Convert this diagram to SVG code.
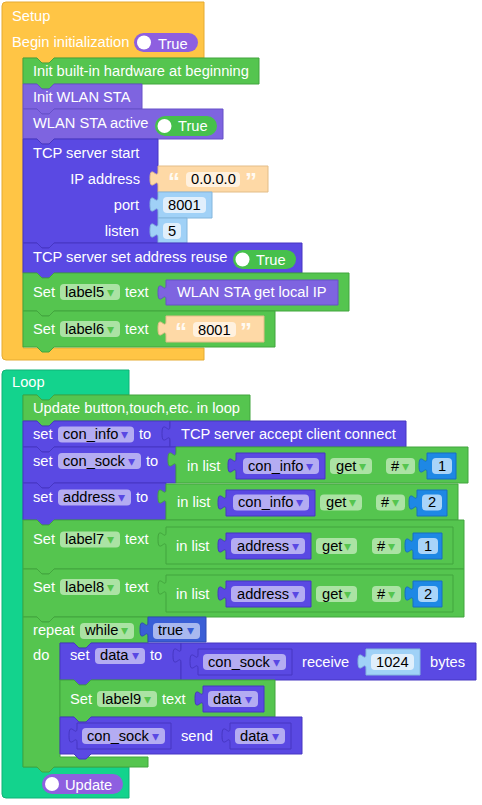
<svg xmlns="http://www.w3.org/2000/svg" width="482" height="805" viewBox="0 0 482 805">
<style>
text{font-family:"Liberation Sans",Arial,sans-serif;font-size:14.67px;fill:#fff}
.k{fill:#000}
.a{font-family:"DejaVu Sans",sans-serif;font-size:14px}
.ag{fill:#55c54f}.ap{fill:#5a49e3}.at{fill:#3a5ed6}
.q{font-weight:bold;font-size:24px;fill:#fffaf2}
.yel{fill:#ffc545;stroke:#e5ab33}
.lp{fill:#13d38d;stroke:#0fb377}
.g{fill:#55c54f;stroke:#43a53e}
.p1{fill:#7e64e0;stroke:#6650c8}
.p2{fill:#5a49e3;stroke:#4637c2}
.or{fill:#fed9a6;stroke:#e3bd88}
.nl{fill:#a0d1f7;stroke:#84b6dd}
.nb{fill:#1e88e5;stroke:#186fc0}
.tb{fill:#3a5ed6;stroke:#2f4cb3}
.ddg{fill:#abe3a4}.ddp{fill:#b4acf2}.ddt{fill:#a9b8ef}
.io{fill:#fff1df}.inl{fill:#e0effc}.inb{fill:#a9d4f9}
</style>
<g id="connectors"></g>
<g id="setup">
<path class="yel" d="M2,6 a4,4 0 0 1 4,-4 H204 V58 H54 l-5,5 h-7 l-5,-5 H23 V348 H204 V360 H6 a4,4 0 0 1 -4,-4 Z"/>
<text x="12" y="20.5">Setup</text>
<text x="12" y="46.5">Begin initialization</text>
<rect x="134" y="33" width="64" height="19" rx="9.5" fill="#8e5fe0"/>
<circle cx="144" cy="42.5" r="7" fill="#fff"/>
<text x="158" y="48.5">True</text>
</g>
<g id="init-hw">
<path class="g" d="M23,58 H37 l5,5 h7 l5,-5 H259 V84 H54 l-5,5 h-7 l-5,-5 H23 Z"/>
<text x="33" y="76">Init built-in hardware at beginning</text>
</g>
<g id="init-wlan">
<path class="p1" d="M23,84 H37 l5,5 h7 l5,-5 H142 V109 H54 l-5,5 h-7 l-5,-5 H23 Z"/>
<text x="33" y="102">Init WLAN STA</text>
</g>
<g id="wlan-active">
<path class="p1" d="M23,109 H37 l5,5 h7 l5,-5 H223 V139 H54 l-5,5 h-7 l-5,-5 H23 Z"/>
<text x="33" y="128">WLAN STA active</text>
<rect x="155" y="116" width="62" height="20" rx="10" fill="#46c04c"/>
<circle cx="164.5" cy="126" r="7" fill="#fff"/>
<text x="178" y="131">True</text>
</g>
<g id="tcp-start">
<path class="p2" d="M23,139 H37 l5,5 h7 l5,-5 H158 V243 H54 l-5,5 h-7 l-5,-5 H23 Z"/>
<text x="33" y="158">TCP server start</text>
<text x="140" y="183.5" text-anchor="end">IP address</text>
<text x="139" y="210" text-anchor="end">port</text>
<text x="139" y="236" text-anchor="end">listen</text>
<path class="or" d="M158,166 H268 V192 H158 V186 c0,-10 -8,8 -8,-7.5 s8,2.5 8,-7.5 Z"/>
<text class="q" x="168" y="190">“</text>
<rect class="io" x="186" y="172" width="54" height="15" rx="4"/>
<text class="k" x="191" y="184">0.0.0.0</text>
<text class="q" x="245" y="190">”</text>
<path class="nl" d="M158,192 H212 V218 H158 V212 c0,-10 -8,8 -8,-7.5 s8,2.5 8,-7.5 Z"/>
<rect class="inl" x="163" y="197" width="43" height="16" rx="4"/>
<text class="k" x="168" y="210">8001</text>
<path class="nl" d="M158,218 H187 V243 H158 V238 c0,-10 -8,8 -8,-7.5 s8,2.5 8,-7.5 Z"/>
<rect class="inl" x="163" y="223" width="18" height="16" rx="4"/>
<text class="k" x="168" y="236">5</text>
</g>
<g id="tcp-reuse">
<path class="p2" d="M23,243 H37 l5,5 h7 l5,-5 H302 V273 H54 l-5,5 h-7 l-5,-5 H23 Z"/>
<text x="33" y="262">TCP server set address reuse</text>
<rect x="233" y="250" width="63" height="19" rx="9.5" fill="#46c04c"/>
<circle cx="242.5" cy="259.5" r="7" fill="#fff"/>
<text x="256" y="264.5">True</text>
</g>
<g id="set-label5">
<path class="g" d="M23,273 H37 l5,5 h7 l5,-5 H349 V311 H54 l-5,5 h-7 l-5,-5 H23 Z"/>
<text x="33" y="297">Set</text>
<rect class="ddg" x="60" y="284" width="60" height="16" rx="4"/>
<text class="k" x="65" y="297">label5</text>
<text class="a ag" x="107" y="297">▾</text>
<text x="125" y="297">text</text>
<path class="p1" d="M166,280 H338 V305 H166 V300 c0,-10 -8,8 -8,-7.5 s8,2.5 8,-7.5 Z"/>
<text x="177" y="297">WLAN STA get local IP</text>
</g>
<g id="set-label6">
<path class="g" d="M23,311 H37 l5,5 h7 l5,-5 H275 V347 H54 l-5,5 h-7 l-5,-5 H23 Z"/>
<text x="33" y="333.5">Set</text>
<rect class="ddg" x="60" y="321" width="60" height="16" rx="4"/>
<text class="k" x="65" y="333.5">label6</text>
<text class="a ag" x="107" y="333.5">▾</text>
<text x="125" y="333.5">text</text>
<path class="or" d="M166,316 H264 V342 H166 V336 c0,-10 -8,8 -8,-7.5 s8,2.5 8,-7.5 Z"/>
<text class="q" x="175" y="340">“</text>
<rect class="io" x="193" y="322" width="43" height="15" rx="4"/>
<text class="k" x="198" y="334.5">8001</text>
<text class="q" x="240" y="340">”</text>
</g>
<g id="loop">
<path class="lp" d="M2,374 a4,4 0 0 1 4,-4 H129 V395 H54 l-5,5 h-7 l-5,-5 H23 V767 H129 V798 H6 a4,4 0 0 1 -4,-4 Z"/>
<text x="12" y="387">Loop</text>
<rect x="42" y="774" width="81" height="20" rx="10" fill="#8e5fe0"/>
<circle cx="52" cy="784" r="7" fill="#fff"/>
<text x="65" y="790">Update</text>
</g>
<g id="update-loop">
<path class="g" d="M23,395 H37 l5,5 h7 l5,-5 H250 V421 H54 l-5,5 h-7 l-5,-5 H23 Z"/>
<text x="33" y="413">Update button,touch,etc. in loop</text>
</g>
<g id="set-con-info">
<path class="p2" d="M23,421 H37 l5,5 h7 l5,-5 H170 V447 H54 l-5,5 h-7 l-5,-5 H23 Z"/>
<text x="33" y="439">set</text>
<rect class="ddp" x="58" y="426.5" width="76" height="16" rx="4"/>
<text class="k" x="63" y="439">con_info</text>
<text class="a ap" x="121" y="439">▾</text>
<text x="139" y="439">to</text>
<path class="p2" d="M170,421 H406 V447 H170 V441 c0,-10 -8,8 -8,-7.5 s8,2.5 8,-7.5 Z"/>
<text x="181" y="439">TCP server accept client connect</text>
</g>
<g id="set-con-sock">
<path class="p2" d="M23,447 H37 l5,5 h7 l5,-5 H176 V483 H54 l-5,5 h-7 l-5,-5 H23 Z"/>
<text x="33" y="466">set</text>
<rect class="ddp" x="58" y="453" width="83" height="16" rx="4"/>
<text class="k" x="63" y="466">con_sock</text>
<text class="a ap" x="128" y="466">▾</text>
<text x="146" y="466">to</text>
<path class="g" d="M176,447 H468 V483 H176 V467 c0,-10 -8,8 -8,-7.5 s8,2.5 8,-7.5 Z"/>
<text x="187" y="470.5">in list</text>
<path class="p2" d="M236,453 H325 V479 H236 V473 c0,-10 -8,8 -8,-7.5 s8,2.5 8,-7.5 Z"/>
<rect class="ddp" x="243" y="458" width="76" height="16" rx="4"/>
<text class="k" x="248" y="470.5">con_info</text>
<text class="a ap" x="306" y="470.5">▾</text>
<rect class="ddg" x="330" y="458" width="42" height="16" rx="4"/>
<text class="k" x="336" y="470.5">get</text>
<text class="a ag" x="359" y="470.5">▾</text>
<rect class="ddg" x="386" y="458" width="29" height="16" rx="4"/>
<text class="k" x="391" y="470.5">#</text>
<text class="a ag" x="402" y="470.5">▾</text>
<path class="nb" d="M427,453 H456 V479 H427 V473 c0,-10 -8,8 -8,-7.5 s8,2.5 8,-7.5 Z"/>
<rect class="inb" x="432" y="458" width="20" height="16" rx="4"/>
<text class="k" x="438" y="470.5">1</text>
</g>
<g id="set-address">
<path class="p2" d="M23,483 H37 l5,5 h7 l5,-5 H166 V520 H54 l-5,5 h-7 l-5,-5 H23 Z"/>
<text x="33" y="502">set</text>
<rect class="ddp" x="58" y="489.5" width="73" height="16" rx="4"/>
<text class="k" x="63" y="502">address</text>
<text class="a ap" x="118" y="502">▾</text>
<text x="136" y="502">to</text>
<path class="g" d="M166,484 H458 V520 H166 V504 c0,-10 -8,8 -8,-7.5 s8,2.5 8,-7.5 Z"/>
<text x="177" y="507">in list</text>
<path class="p2" d="M226,490 H315 V516 H226 V510 c0,-10 -8,8 -8,-7.5 s8,2.5 8,-7.5 Z"/>
<rect class="ddp" x="233" y="494.5" width="76" height="16" rx="4"/>
<text class="k" x="238" y="507">con_info</text>
<text class="a ap" x="296" y="507">▾</text>
<rect class="ddg" x="320" y="494.5" width="42" height="16" rx="4"/>
<text class="k" x="326" y="507">get</text>
<text class="a ag" x="349" y="507">▾</text>
<rect class="ddg" x="376" y="494.5" width="29" height="16" rx="4"/>
<text class="k" x="381" y="507">#</text>
<text class="a ag" x="392" y="507">▾</text>
<path class="nb" d="M417,490 H447 V516 H417 V510 c0,-10 -8,8 -8,-7.5 s8,2.5 8,-7.5 Z"/>
<rect class="inb" x="422" y="494.5" width="20" height="16" rx="4"/>
<text class="k" x="428" y="507">2</text>
</g>
<g id="set-label7">
<path class="g" d="M23,520 H37 l5,5 h7 l5,-5 H464 V569 H54 l-5,5 h-7 l-5,-5 H23 Z"/>
<text x="33" y="544">Set</text>
<rect class="ddg" x="60" y="531.5" width="60" height="16" rx="4"/>
<text class="k" x="65" y="544">label7</text>
<text class="a ag" x="107" y="544">▾</text>
<text x="125" y="544">text</text>
<path class="g" d="M166,527 H453 V564 H166 V547 c0,-10 -8,8 -8,-7.5 s8,2.5 8,-7.5 Z"/>
<text x="176" y="550.5">in list</text>
<path class="p2" d="M226,533 H311 V559 H226 V553 c0,-10 -8,8 -8,-7.5 s8,2.5 8,-7.5 Z"/>
<rect class="ddp" x="231" y="538" width="74" height="16" rx="4"/>
<text class="k" x="237" y="550.5">address</text>
<text class="a ap" x="292" y="550.5">▾</text>
<rect class="ddg" x="316" y="538" width="41" height="16" rx="4"/>
<text class="k" x="322" y="550.5">get</text>
<text class="a ag" x="344" y="550.5">▾</text>
<rect class="ddg" x="372" y="538" width="29" height="16" rx="4"/>
<text class="k" x="377" y="550.5">#</text>
<text class="a ag" x="388" y="550.5">▾</text>
<path class="nb" d="M413,533 H442 V559 H413 V553 c0,-10 -8,8 -8,-7.5 s8,2.5 8,-7.5 Z"/>
<rect class="inb" x="418" y="538" width="20" height="16" rx="4"/>
<text class="k" x="424" y="550.5">1</text>
</g>
<g id="set-label8">
<path class="g" d="M23,569 H37 l5,5 h7 l5,-5 H464 V617 H54 l-5,5 h-7 l-5,-5 H23 Z"/>
<text x="33" y="592">Set</text>
<rect class="ddg" x="60" y="579" width="60" height="16" rx="4"/>
<text class="k" x="65" y="592">label8</text>
<text class="a ag" x="107" y="592">▾</text>
<text x="125" y="592">text</text>
<path class="g" d="M166,575 H453 V612 H166 V595 c0,-10 -8,8 -8,-7.5 s8,2.5 8,-7.5 Z"/>
<text x="176" y="598.5">in list</text>
<path class="p2" d="M226,581 H311 V607 H226 V601 c0,-10 -8,8 -8,-7.5 s8,2.5 8,-7.5 Z"/>
<rect class="ddp" x="231" y="586" width="74" height="16" rx="4"/>
<text class="k" x="237" y="598.5">address</text>
<text class="a ap" x="292" y="598.5">▾</text>
<rect class="ddg" x="316" y="586" width="41" height="16" rx="4"/>
<text class="k" x="322" y="598.5">get</text>
<text class="a ag" x="344" y="598.5">▾</text>
<rect class="ddg" x="372" y="586" width="29" height="16" rx="4"/>
<text class="k" x="377" y="598.5">#</text>
<text class="a ag" x="388" y="598.5">▾</text>
<path class="nb" d="M413,581 H442 V607 H413 V601 c0,-10 -8,8 -8,-7.5 s8,2.5 8,-7.5 Z"/>
<rect class="inb" x="418" y="586" width="20" height="16" rx="4"/>
<text class="k" x="424" y="598.5">2</text>
</g>
<g id="repeat-while">
<path class="g" d="M23,617 H37 l5,5 h7 l5,-5 H148 V643 H91 l-5,5 h-7 l-5,-5 H60 V757 H148 V767 H54 l-5,5 h-7 l-5,-5 H23 Z"/>
<text x="33" y="635">repeat</text>
<rect class="ddg" x="80" y="623" width="54" height="16" rx="4"/>
<text class="k" x="85" y="635">while</text>
<text class="a ag" x="121" y="635">▾</text>
<path class="tb" d="M148,617 H206 V642 H148 V637 c0,-10 -8,8 -8,-7.5 s8,2.5 8,-7.5 Z"/>
<rect class="ddt" x="153" y="623" width="47" height="16" rx="4"/>
<text class="k" x="158" y="635">true</text>
<text class="a at" x="187" y="635">▾</text>
<text x="33" y="660">do</text>
</g>
<g id="set-data">
<path class="p2" d="M60,643 H74 l5,5 h7 l5,-5 H181 V680 H91 l-5,5 h-7 l-5,-5 H60 Z"/>
<text x="70" y="660">set</text>
<rect class="ddp" x="95" y="648" width="50" height="16" rx="4"/>
<text class="k" x="100" y="660">data</text>
<text class="a ap" x="132" y="660">▾</text>
<text x="150" y="660">to</text>
<path class="p2" d="M181,643 H476 V680 H181 V663 c0,-10 -8,8 -8,-7.5 s8,2.5 8,-7.5 Z"/>
<path class="p2" d="M198,649 H292 V675 H198 V669 c0,-10 -8,8 -8,-7.5 s8,2.5 8,-7.5 Z"/>
<rect class="ddp" x="203" y="654" width="83" height="16" rx="4"/>
<text class="k" x="208" y="666.5">con_sock</text>
<text class="a ap" x="273" y="666.5">▾</text>
<text x="302" y="666.5">receive</text>
<path class="nl" d="M366,649 H420 V675 H366 V669 c0,-10 -8,8 -8,-7.5 s8,2.5 8,-7.5 Z"/>
<rect class="inl" x="371" y="654" width="43" height="16" rx="4"/>
<text class="k" x="376" y="666.5">1024</text>
<text x="430" y="666.5">bytes</text>
</g>
<g id="set-label9">
<path class="g" d="M60,680 H74 l5,5 h7 l5,-5 H275 V717 H91 l-5,5 h-7 l-5,-5 H60 Z"/>
<text x="70" y="703.5">Set</text>
<rect class="ddg" x="97" y="691" width="60" height="16" rx="4"/>
<text class="k" x="102" y="703.5">label9</text>
<text class="a ag" x="144" y="703.5">▾</text>
<text x="162" y="703.5">text</text>
<path class="p2" d="M203,686 H264 V712 H203 V706 c0,-10 -8,8 -8,-7.5 s8,2.5 8,-7.5 Z"/>
<rect class="ddp" x="208" y="691" width="50" height="16" rx="4"/>
<text class="k" x="213" y="703.5">data</text>
<text class="a ap" x="245" y="703.5">▾</text>
</g>
<g id="sock-send">
<path class="p2" d="M60,717 H74 l5,5 h7 l5,-5 H302 V754 H91 l-5,5 h-7 l-5,-5 H60 Z"/>
<path class="p2" d="M77,723 H171 V749 H77 V743 c0,-10 -8,8 -8,-7.5 s8,2.5 8,-7.5 Z"/>
<rect class="ddp" x="82" y="728" width="83" height="16" rx="4"/>
<text class="k" x="87" y="740.5">con_sock</text>
<text class="a ap" x="152" y="740.5">▾</text>
<text x="181" y="740.5">send</text>
<path class="p2" d="M230,723 H291 V749 H230 V743 c0,-10 -8,8 -8,-7.5 s8,2.5 8,-7.5 Z"/>
<rect class="ddp" x="235" y="728" width="50" height="16" rx="4"/>
<text class="k" x="240" y="740.5">data</text>
<text class="a ap" x="272" y="740.5">▾</text>
</g>
</svg>
